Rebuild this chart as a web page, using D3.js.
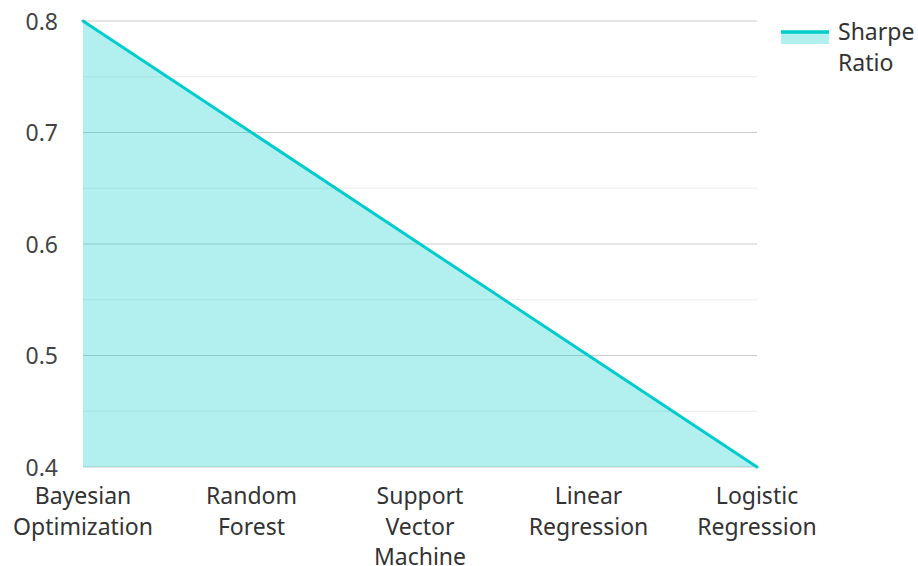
<!DOCTYPE html>
<html>
<head>
<meta charset="utf-8">
<script src="https://cdn.jsdelivr.net/npm/d3@7"></script>
<style>
  html, body { margin: 0; padding: 0; background: #fff; }
  svg { display: block; font-family: "Noto Sans", "Open Sans", sans-serif; }
</style>
</head>
<body>
<svg id="chart" width="918" height="566"></svg>
<script>
// Sharpe ratio by model
const models = [
  ["Bayesian", "Optimization"],
  ["Random", "Forest"],
  ["Support", "Vector", "Machine"],
  ["Linear", "Regression"],
  ["Logistic", "Regression"]
];
const sharpe = [0.8, 0.7, 0.6, 0.5, 0.4];
const majorTicks = [0.4, 0.5, 0.6, 0.7, 0.8];
const minorTicks = [0.45, 0.55, 0.65, 0.75];
const seriesName = ["Sharpe", "Ratio"];

const color = "#00cccc";
const fontSize = 23;
const svg = d3.select("#chart");
const plot = { left: 83, right: 757, top: 21, bottom: 467 };

const x = d3.scalePoint().domain(d3.range(models.length)).range([plot.left, plot.right]);
const y = d3.scaleLinear().domain([0.4, 0.8]).range([plot.bottom, plot.top]);

// gridlines
svg.append("g").selectAll("line").data(minorTicks).join("line")
  .attr("x1", plot.left).attr("x2", plot.right)
  .attr("y1", d => y(d)).attr("y2", d => y(d))
  .attr("stroke", "#ebebeb").attr("stroke-width", 1);
svg.append("g").selectAll("line").data(majorTicks).join("line")
  .attr("x1", plot.left).attr("x2", plot.right)
  .attr("y1", d => y(d)).attr("y2", d => y(d))
  .attr("stroke", "#cccccc").attr("stroke-width", 1);

// area + line
const area = d3.area().x((d, i) => x(i)).y0(y(0.4)).y1(d => y(d));
const line = d3.line().x((d, i) => x(i)).y(d => y(d));
svg.append("path").datum(sharpe).attr("d", area)
  .attr("fill", color).attr("fill-opacity", 0.3);
svg.append("path").datum(sharpe).attr("d", line)
  .attr("fill", "none").attr("stroke", color).attr("stroke-width", 3)
  .attr("stroke-linecap", "round").attr("stroke-linejoin", "round");

// y axis labels
svg.append("g").selectAll("text").data(majorTicks).join("text")
  .attr("x", 58).attr("y", d => y(d)).attr("dy", "0.37em")
  .attr("text-anchor", "end").attr("font-size", fontSize).attr("fill", "#444")
  .text(d => d.toFixed(1));

// x axis labels
const xl = svg.append("g").selectAll("text").data(models).join("text")
  .attr("x", (d, i) => x(i)).attr("y", 504)
  .attr("text-anchor", "middle").attr("font-size", fontSize).attr("fill", "#333");
xl.selectAll("tspan").data(d => d).join("tspan")
  .attr("x", function() { return d3.select(this.parentNode).attr("x"); })
  .attr("dy", (d, i) => i === 0 ? 0 : 30.5)
  .text(d => d);

// legend
const lg = svg.append("g");
lg.append("rect").attr("x", 781).attr("y", 32).attr("width", 48).attr("height", 12)
  .attr("fill", color).attr("fill-opacity", 0.3);
lg.append("line").attr("x1", 781).attr("x2", 829).attr("y1", 32).attr("y2", 32)
  .attr("stroke", color).attr("stroke-width", 3.5);
lg.append("text").attr("x", 838).attr("y", 40).attr("font-size", fontSize).attr("fill", "#333")
  .selectAll("tspan").data(seriesName).join("tspan")
  .attr("x", 838).attr("dy", (d, i) => i === 0 ? 0 : 30.7).text(d => d);
</script>
</body>
</html>
